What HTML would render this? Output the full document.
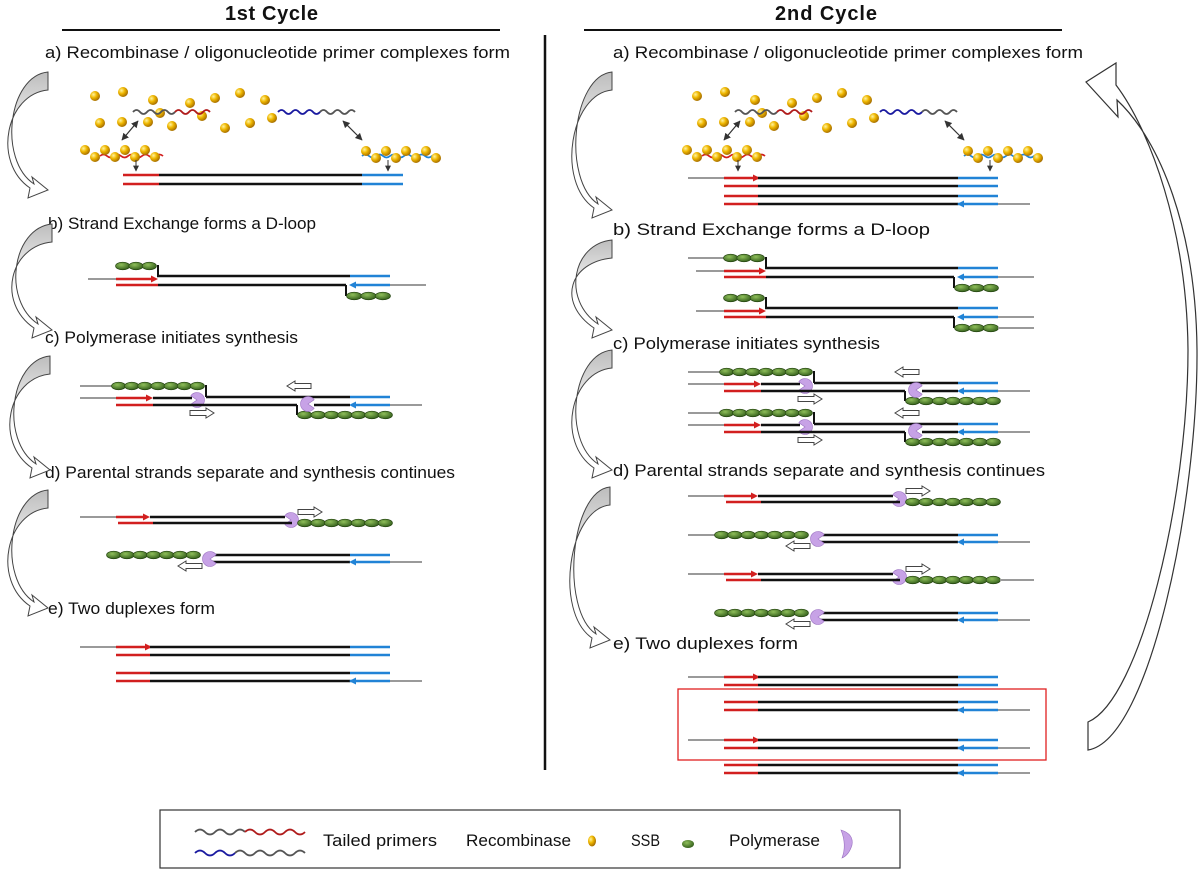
<!DOCTYPE html>
<html><head><meta charset="utf-8"><style>
html,body{margin:0;padding:0;background:#fff;}
svg{display:block;}
text{font-family:"Liberation Sans",sans-serif;fill:#111;}
</style></head><body>
<svg id="s" width="1200" height="877" viewBox="0 0 1200 877" xmlns="http://www.w3.org/2000/svg">
<defs>
<radialGradient id="gold" cx="0.35" cy="0.35" r="0.7"><stop offset="0" stop-color="#fff3a0"/><stop offset="0.45" stop-color="#f0b800"/><stop offset="1" stop-color="#a06800"/></radialGradient>
<radialGradient id="grn" cx="0.4" cy="0.35" r="0.7"><stop offset="0" stop-color="#8fbf5a"/><stop offset="1" stop-color="#2f5a18"/></radialGradient>
<linearGradient id="ag" x1="0" y1="0" x2="0" y2="1"><stop offset="0" stop-color="#bdbdbd"/><stop offset="0.35" stop-color="#e6e6e6"/><stop offset="0.6" stop-color="#fff"/></linearGradient>
<marker id="mk" viewBox="0 0 10 10" refX="9" refY="5" markerWidth="6" markerHeight="6" orient="auto-start-reverse"><path d="M0,0 L10,5 L0,10 Z" fill="#333"/></marker>
</defs>
<text x="225" y="20" font-size="20" font-weight="bold" textLength="93">1st Cycle</text>
<text x="775" y="20" font-size="20" font-weight="bold" textLength="102">2nd Cycle</text>
<line x1="62" y1="30" x2="500" y2="30" stroke="#111" stroke-width="2"/>
<line x1="584" y1="30" x2="1062" y2="30" stroke="#111" stroke-width="2"/>
<line x1="545" y1="35" x2="545" y2="770" stroke="#111" stroke-width="2.5"/>
<rect x="160" y="810" width="740" height="58" fill="none" stroke="#333" stroke-width="1.2"/>
<rect x="678" y="689" width="368" height="71" fill="none" stroke="#e02020" stroke-width="1.3"/>
<path d="M1088,722 L1088,750 C1150,740 1198,500 1197,350 C1196,230 1160,140 1117,100 L1118,117 L1086,82 L1116,63 L1116,85 C1150,130 1187,230 1188,350 C1188,500 1140,700 1088,722 Z" fill="#fff" stroke="#333" stroke-width="1.2"/>
</svg>
<script>
const S=document.getElementById('s');const NS='http://www.w3.org/2000/svg';
function el(t,a,txt){const e=document.createElementNS(NS,t);for(const k in a)e.setAttribute(k,a[k]);if(txt)e.textContent=txt;S.appendChild(e);return e;}
const RED='#d21f1f',BLUE='#2183d6',BLK='#111',GRY='#9a9a9a';
function L(x1,y1,x2,y2,c,w){el('line',{x1,y1,x2,y2,stroke:c,'stroke-width':w||2.4});}
function arr(x,y,d,c){el('polygon',{points:d>0?`${x},${y} ${x-7},${y-3.5} ${x-7},${y+3.5}`:`${x},${y} ${x+7},${y-3.5} ${x+7},${y+3.5}`,fill:c});}
function ssb(x1,x2,y){const n=Math.max(1,Math.round((x2-x1)/13));const st=(x2-x1)/n;for(let i=0;i<n;i++)el('ellipse',{cx:x1+st*(i+.5),cy:y,rx:st/2+.5,ry:3.8,fill:'url(#grn)',stroke:'#23430f','stroke-width':.6});}
function ball(x,y,r){el('circle',{cx:x,cy:y,r:r||5,fill:'url(#gold)'});}
function pol(x,y,d){const r=7.5;const a1=d>0?0.6:Math.PI-0.6,a2=d>0?-0.6:Math.PI+0.6;
 el('path',{d:`M${x},${y} L${x+r*Math.cos(a1)},${y+r*Math.sin(a1)} A${r},${r} 0 1 ${d>0?1:0} ${x+r*Math.cos(a2)},${y+r*Math.sin(a2)} Z`,fill:'#c7a2e6',stroke:'#9a70c0','stroke-width':.6});}
function hol(x,y,d){const w=24;let p;if(d>0)p=`${x},${y-2.5} ${x+16},${y-2.5} ${x+16},${y-5} ${x+w},${y} ${x+16},${y+5} ${x+16},${y+2.5} ${x},${y+2.5}`;
 else p=`${x+w},${y-2.5} ${x+8},${y-2.5} ${x+8},${y-5} ${x},${y} ${x+8},${y+5} ${x+8},${y+2.5} ${x+w},${y+2.5}`;el('polygon',{points:p,fill:'#fff',stroke:'#444','stroke-width':1});}
function wave(x1,x2,y,c,amp,h){h=h||7;let d=`M${x1},${y}`;let i=0;for(let x=x1;x<x2-0.1;x+=h,i++){d+=` Q${x+h/2},${y+(i%2?2*amp:-2*amp)} ${x+h},${y}`;}el('path',{d,fill:'none',stroke:c,'stroke-width':1.8});}
function txt(x,y,s,len,fs){el('text',{x,y,'font-size':fs||17,textLength:len,lengthAdjust:'spacingAndGlyphs'},s);}
function carrow(xr,y1,y2){const t=22;el('path',{d:`M${xr},${y1} C${xr-40},${y1+4} ${xr-50},${y2-30} ${xr-14},${y2-6} L${xr-16},${y2-13} L${xr},${y2} L${xr-20},${y2+8} L${xr-18},${y2-2} C${xr-56},${y2-28} ${xr-42},${y1+t} ${xr},${y1+t-4} Z`,fill:'url(#ag)',stroke:'#444','stroke-width':1});}
const G={gl:80,r0:116,r1:150,b0:350,b1:390,gr:422};
function full(y,o,tt,bt){const g=G;
 if(tt)L(g.gl+o,y,g.r0+o,y,GRY,2);L(g.r0+o,y,g.r1+o,y,RED);if(tt)arr(g.r1+o+2,y,1,RED);L(g.r1+o,y,g.b0+o,y,BLK);L(g.b0+o,y,g.b1+o,y,BLUE);
 const y2=y+8;L(g.r0+o,y2,g.r1+o,y2,RED);L(g.r1+o,y2,g.b0+o,y2,BLK);L(g.b0+o,y2,g.b1+o,y2,BLUE);if(bt){arr(g.b0+o-1,y2,-1,BLUE);L(g.b1+o,y2,g.gr+o,y2,GRY,2);}}
function dloop(y,o,lt,rt){const g=G;
 if(lt)L(g.gl+o,y-10,g.r0+o,y-10,GRY,2);ssb(g.r0+o,g.r1+o+6,y-10);L(g.r1+o+8,y-11,g.r1+o+8,y,BLK,2);L(g.r1+o+7,y,g.b0+o,y,BLK);L(g.b0+o,y,g.b1+o,y,BLUE);
 L(g.gl+o+8,y+3,g.r0+o,y+3,GRY,2);L(g.r0+o,y+3,g.r1+o+4,y+3,RED);arr(g.r1+o+8,y+3,1,RED);
 L(g.r0+o,y+9,g.r1+o+8,y+9,RED);L(g.r1+o+8,y+9,g.b0+o-4,y+9,BLK);L(g.b0+o-4,y+9,g.b0+o-4,y+20,BLK,2);ssb(g.b0+o-3,g.b1+o,y+20);
 L(g.b0+o+4,y+9,g.b1+o,y+9,BLUE);arr(g.b0+o-1,y+9,-1,BLUE);L(g.b1+o,y+9,g.gr+o+4,y+9,GRY,2);if(rt)L(g.b1+o,y+20,g.gr+o+4,y+20,GRY,2);}
function cloop(y,o){const g=G;
 L(g.gl+o,y-11,g.r0+o-4,y-11,GRY,2);ssb(g.r0+o-4,g.r0+o+88,y-11);L(g.r0+o+90,y-12,g.r0+o+90,y,BLK,2);L(g.r0+o+90,y,g.b0+o,y,BLK);L(g.b0+o,y,g.b1+o,y,BLUE);
 L(g.gl+o,y+1,g.r0+o,y+1,GRY,2);L(g.r0+o,y+1,g.r0+o+34,y+1,RED);arr(g.r0+o+37,y+1,1,RED);L(g.r0+o+37,y+1,g.r0+o+76,y+1,BLK);pol(g.r0+o+81,y+3,-1);
 L(g.r0+o,y+8,g.r1+o+3,y+8,RED);L(g.r1+o+3,y+8,g.r0+o+181,y+8,BLK);L(g.r0+o+181,y+8,g.r0+o+181,y+18,BLK,2);ssb(g.r0+o+182,g.b1+o+2,y+18);
 L(g.b0+o+4,y+8,g.b1+o,y+8,BLUE);arr(g.b0+o-1,y+8,-1,BLUE);L(g.b0+o,y+8,g.r0+o+198,y+8,BLK);pol(g.r0+o+192,y+7,1);L(g.b1+o,y+8,g.gr+o,y+8,GRY,2);
 hol(g.r0+o+74,y+16,1);hol(g.r0+o+171,y-11,-1);}
function d1(y,o,tail){const g=G;
 L(g.gl+o,y,g.r0+o,y,GRY,2);L(g.r0+o,y,g.r1+o-3,y,RED);arr(g.r1+o,y,1,RED);L(g.r1+o,y,285+o,y,BLK);pol(291+o,y+3,-1);hol(298+o,y-5,1);
 L(g.r0+o+2,y+6,g.r1+o+3,y+6,RED);L(g.r1+o+3,y+6,292+o,y+6,BLK);ssb(298+o,392+o,y+6);if(tail)L(392+o,y+6,g.gr+o+4,y+6,GRY,2);}
function d2(y,o,tail){const g=G;
 if(tail)L(g.gl+o,y,107+o,y,GRY,2);ssb(107+o,200+o,y);L(205+o,y,g.b0+o,y,BLK);L(g.b0+o,y,g.b1+o,y,BLUE);
 L(212+o,y+7,g.b0+o,y+7,BLK);L(g.b0+o+4,y+7,g.b1+o,y+7,BLUE);arr(g.b0+o-1,y+7,-1,BLUE);L(g.b1+o,y+7,g.gr+o,y+7,GRY,2);pol(210+o,y+4,1);hol(178+o,y+11,-1);}
function recomb(o){
 [[95,96],[123,92],[153,100],[160,113],[190,103],[215,98],[240,93],[265,100],[100,123],[122,122],[148,122],[172,126],[202,116],[225,128],[250,123],[272,118]].forEach(p=>ball(p[0]+o,p[1]));
 wave(133+o,175+o,112,'#555',2,7);wave(175+o,210+o,112,'#b01c1c',2,7);wave(278+o,320+o,112,'#1a1aa0',2,7);wave(320+o,355+o,112,'#555',2,7);
 el('line',{x1:138+o,y1:121,x2:122+o,y2:140,stroke:'#333','stroke-width':1.2,'marker-start':'url(#mk)','marker-end':'url(#mk)'});
 el('line',{x1:343+o,y1:121,x2:362+o,y2:140,stroke:'#333','stroke-width':1.2,'marker-start':'url(#mk)','marker-end':'url(#mk)'});
 wave(100+o,160+o,156,RED,1.5,7);wave(362+o,437+o,156,BLUE,1.5,7);
 for(let i=0;i<8;i++){ball(85+o+i*10,150+(i%2?7:0));}for(let i=0;i<8;i++){ball(366+o+i*10,151+(i%2?7:0));}
 el('line',{x1:136+o,y1:160,x2:136+o,y2:171,stroke:'#333','stroke-width':1,'marker-end':'url(#mk)'});
 el('line',{x1:388+o,y1:160,x2:388+o,y2:171,stroke:'#333','stroke-width':1,'marker-end':'url(#mk)'});}
// LEFT PANEL
txt(45,58,'a) Recombinase / oligonucleotide primer complexes form',465);
txt(48,229,'b) Strand Exchange forms a D-loop',268);
txt(45,343,'c) Polymerase initiates  synthesis',253);
txt(45,478,'d) Parental strands separate and synthesis continues',410);
txt(48,614,'e) Two duplexes form',167);
recomb(0);
L(123,175,159,175,RED);L(159,175,362,175,BLK);L(362,175,403,175,BLUE);
L(123,184,159,184,RED);L(159,184,362,184,BLK);L(362,184,403,184,BLUE);
dloop(276,0,false,false);
cloop(397,0);
d1(517,0,false);d2(555,0,false);
full(647,0,true,false);full(673,0,false,true);
carrow(48,72,190);carrow(52,224,330);carrow(50,356,470);carrow(48,490,608);
// RIGHT PANEL
const O=608;
txt(613,58,'a) Recombinase / oligonucleotide primer complexes form',470);
txt(613,235,'b) Strand Exchange forms a D-loop',317);
txt(613,349,'c) Polymerase initiates  synthesis',267);
txt(613,476,'d) Parental strands separate and synthesis continues',432);
txt(613,649,'e) Two duplexes form',185);
recomb(602);
full(178,O,true,false);full(196,O,false,true);
dloop(268,O,true,false);dloop(308,O,false,true);
cloop(383,O);cloop(424,O);
d1(496,O,false);d2(535,O,true);d1(574,O,true);d2(613,O,false);
full(677,O,true,false);full(702,O,false,true);full(740,O,true,true);full(765,O,false,true);
carrow(612,72,210);carrow(612,240,330);carrow(612,350,470);carrow(610,487,640);
// LEGEND
wave(195,245,832,'#555',2.5,10);wave(245,305,832,'#b01c1c',2.5,10);wave(195,235,853,'#1a1aa0',2.5,10);wave(235,305,853,'#555',2.5,10);
txt(323,846,'Tailed primers',114);txt(466,846,'Recombinase',105);txt(631,846,'SSB',29);txt(729,846,'Polymerase',91);
el('ellipse',{cx:592,cy:841,rx:4,ry:5.5,fill:'url(#gold)'});
el('ellipse',{cx:688,cy:844,rx:6,ry:4,fill:'url(#grn)'});
el('path',{d:'M841,830 Q854,834 852,845 Q849,855 842,858 Q847,845 841,830 Z',fill:'#c7a2e6',stroke:'#9a70c0','stroke-width':.6});
</script>
</body></html>
